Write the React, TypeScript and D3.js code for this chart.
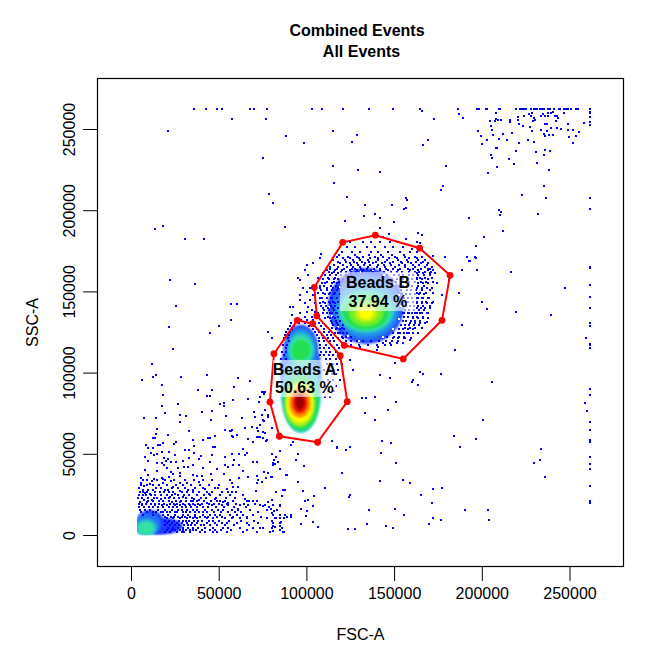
import React, { useEffect, useRef } from 'react';
import * as d3 from 'd3';

// all event values below are in thousands of FSC-A / SSC-A units
const xTicks = [0, 50000, 100000, 150000, 200000, 250000];
const yTicks = [0, 50000, 100000, 150000, 200000, 250000];

// events saturated on the SSC-A channel
const topRowY = 262.5;
const topRowX = [35.9, 42.8, 49, 51.7, 67.7, 70.1, 77.5, 103.2, 108.9, 120.7, 135.7, 149.4, 164.8, 186.4, 197.1, 198.2, 202.2, 202.8, 209.6, 210.4, 219.5, 221.8, 222.9, 224.1, 225.2, 228, 229.8, 230.9, 231.5, 233.2, 234.3, 235.5, 237.7, 238.9, 241.2, 244, 244.6, 246.9, 248, 249.1, 250.8, 253.7, 254.8, 261.7];

// events saturated on the FSC-A channel
const rightColX = 261.7;
const rightColY = [260.7, 259.9, 257.4, 254.3, 252.5, 207.5, 200.7, 165, 164.4, 154, 146.6, 139.8, 130.6, 128.7, 117.6, 117, 115.2, 89.9, 86.2, 69.6, 64.7, 58.5, 57.5, 48, 43.7, 40.6, 30.2, 20.9, 19.9];

const upperRightEvents: [number, number][] = [
  [187, 259.3], [189.3, 256.8], [208.1, 259.9], [220.7, 257.4], [226.9, 259.3], [228.6, 259.9], [228.1, 258], [229.8, 256.8], [230.4, 255.6], [229.2, 255], [224.1, 258], [234.9, 259.3], [237.8, 259.9], [239.5, 259.9], [240.6, 260.5], [233.8, 258], [236, 258], [237.8, 258], [241.8, 258], [242.9, 258], [243.5, 256.8], [246.9, 259.9], [208.1, 256.2], [209.3, 255.6], [211, 255.6], [204.7, 255], [207.6, 255], [220.7, 255.6], [216.1, 255.6], [216.1, 254.3], [221.2, 253.1], [227.5, 251.2], [223.5, 251.9], [205.3, 251.9], [236, 253.1], [237.2, 253.1], [242.3, 255], [249.2, 253.1], [258.3, 253.7],
  [239.5, 250.6], [242.9, 250.6], [245.2, 250], [249.2, 249.4], [252, 249.4], [255.4, 248.2], [233.8, 249.4], [228.6, 248.8], [237.2, 248.8], [205.8, 249.4], [197.9, 248.8], [199.6, 245.7], [206.4, 246.3], [212.1, 246.9], [217.2, 247.6], [235.5, 246.9], [236, 245.7], [238.3, 246.3], [240.6, 246.3], [249.7, 245.1], [253.7, 245.7], [203, 243.2], [209.8, 243.9], [214.4, 243.2], [226.4, 243.2], [229.8, 242], [200.1, 240.8], [221.2, 241.4], [252, 241.4], [208.1, 238.3], [208.7, 238.3], [219.5, 236.5], [230.9, 235.9], [236, 237.1], [238.9, 236.5], [205.3, 234], [205.8, 232.2], [235.5, 234], [215.5, 231.5], [218.4, 228.5], [231.5, 229.1], [179.6, 227.2], [208.7, 226.6], [238.3, 224.8], [203.6, 222.9], [177.9, 214.9], [176.8, 212.5], [235.5, 214.9], [222.9, 209.4],
];

const upperLeftEvents: [number, number][] = [
  [20.9, 248.8], [57.5, 256.2], [77, 256.2], [88.3, 245.7], [98.6, 241.4], [75.2, 232.2], [115.1, 248.8], [128.8, 246.4], [126, 242], [166.4, 240.2], [169.3, 243.3], [165.8, 261.1], [172.7, 256.2], [115.1, 227.3], [129.4, 224.8], [141.9, 223.6], [115.7, 216.8], [123.1, 208.2], [157.3, 206.3], [78.6, 210], [80.9, 204.5], [133.4, 203.2], [148.7, 203.2], [155.6, 200.8], [156.7, 201.4], [122, 193.4], [132.8, 196.5], [139, 197.7], [141.9, 195.2], [149.9, 192.8], [87.8, 189.7], [13.7, 188.5], [18.2, 190.3], [141.9, 189.1], [147, 185.4], [163.6, 186], [165.8, 184.8], [30.8, 182.1], [41.6, 182.1], [156.7, 182.3],
];

const midLeftEvents: [number, number][] = [
  [22.2, 157], [36.5, 154.6], [25.6, 141], [57, 142.2], [60.4, 142.2], [57, 132.4], [21.7, 127.9], [50.2, 128.7], [45, 124.4], [78.1, 125], [80.4, 121.3], [23.9, 114.5], [12, 105.3], [6.3, 95.4], [12.5, 97.3], [14.3, 98.5], [28.5, 97.3], [43.3, 98.5], [61, 96.7], [67.8, 94.8], [17.7, 92.4], [18.2, 86.2], [38.2, 89.3], [46.2, 89.3], [43.3, 85.6], [45, 85.6], [58.7, 90.9], [66.7, 83.7], [74.7, 88], [76.4, 88], [75.8, 86.8], [72.9, 81.9], [17.7, 79.4], [26.8, 80.7], [50.7, 80.7], [53, 81.3], [53, 79.4], [58.1, 82.9], [19.4, 75.1], [46.2, 76.3], [40.5, 75.7], [27.9, 73.9], [31.4, 73.3], [7.4, 72], [14.3, 72], [54.1, 73.3], [63.3, 72], [70.1, 75.7], [74.7, 73.9], [78.1, 72.6], [27.9, 69.6], [45.6, 70.8], [75.8, 70.2], [14.8, 65.3], [33.1, 64], [57, 64], [57.6, 64.6], [65, 65.9], [73.5, 67.7], [72.4, 64], [80.4, 65.9], [75.2, 63.4], [12.7, 59.7], [45, 59.7], [47.9, 60.9], [58.1, 60.3], [60.4, 61.6], [66.7, 59.1], [71.8, 60.3], [75.2, 59.7],
];

const rightEvents: [number, number][] = [
  [236.6, 207.4], [156.8, 207.4], [209.8, 200.2], [211, 199], [210.4, 197.1], [232.1, 197.7], [192.9, 195.3], [212.1, 187.2], [201.3, 183.5], [196.7, 178], [179, 171.2], [191.6, 171.2], [196.2, 171.2], [196.7, 170.6], [192.7, 168.8], [193.3, 168.8], [188.7, 163.2], [197.3, 163.2], [216.7, 162], [247.5, 152.1], [187, 148.9], [200.1, 143.5], [203, 139.2], [219.5, 137.4], [239.5, 135.5], [188.7, 129.4], [259.4, 121.3], [184.8, 114], [166.5, 99.2], [176.8, 99.2], [160.2, 94.2], [205.8, 94.5], [258.9, 81.3], [260, 76.4], [200.7, 70.8], [184.2, 61], [196.7, 59.1], [187.6, 54.2], [233.8, 53], [233.2, 46.2], [229.8, 44.4], [236.1, 35.7], [155.1, 33.9], [159.1, 31.8], [172.2, 28.3], [177.3, 29], [165.4, 24.6], [171.6, 19.7], [190.5, 15.4], [203.6, 15.4], [155.7, 12.3], [172.2, 10.5], [176.8, 9.3], [204.1, 9.3], [169.9, 6.8],
  [163.1, 180.5], [164.8, 179.9], [160.2, 176.2], [172.2, 171.9], [169.4, 163.8], [168.8, 131.2], [159.1, 120.1], [155.7, 121], [181.3, 157], [177.2, 147.8],
];

const bottomMidEvents: [number, number][] = [
  [114.5, 58.1], [143, 57.9], [148.2, 56.7], [117.4, 53.6], [122.5, 52.4], [142.5, 50.5], [151, 44.4], [92.3, 57.3], [91.2, 55.5], [95.2, 49.9], [94, 46.2], [98.6, 42.5], [120.2, 38.2], [141.9, 33.3], [124.8, 24.7], [124.2, 23.4], [110.6, 29], [98, 27.1], [95.2, 32.7], [87.8, 27.7], [82.6, 26.5], [86, 24], [99.2, 21], [100.9, 21.6], [80.3, 21.6], [104.3, 23.8], [103.7, 17.9], [84.9, 17.9], [135.6, 15.4], [150.5, 15.8], [96.9, 16], [100.3, 14.8], [81.5, 14.8], [79.8, 16], [99.7, 11.7], [88.9, 11.1], [91.2, 11.1], [82.6, 10.5], [84.9, 10.5], [87.2, 10.5], [80.3, 13.6], [103.7, 8], [85.5, 8], [80.3, 8.7], [145.3, 5.6], [134.5, 6.8], [96.9, 6.8], [106.6, 5], [149.3, 4.3], [123.7, 3.7], [127.6, 3.7], [84.9, 5.6], [82.1, 5], [80.9, 5.6], [87.2, 1.9], [80.9, 2.5], [84.9, 3.1], [79.2, 1.9], [81.5, 46.2], [80.3, 49.9], [82.1, 43.8], [83.8, 45], [80.9, 43.1], [84.9, 52], [88.3, 37.2], [79.8, 35.8],
];

const lowerLeftEvents: [number, number][] = [
  [14.2, 62.2], [13.7, 59.8], [12.7, 59.8], [21.3, 61.4], [33, 64.1], [57.4, 61], [53.6, 64.7], [60.2, 61.6], [56.4, 64.1], [72.2, 64.1], [75.4, 63.7], [47.9, 61], [44.1, 59.8], [40.8, 58.5], [35.5, 58.5], [35.9, 54.8], [25.6, 57.5], [24.3, 56.1], [18, 56.9], [16.5, 55.5], [15.2, 55.7], [8.3, 55.7], [12.3, 53.6], [9.5, 53.6], [17.6, 51.1], [21.6, 51.1], [11.4, 50.5], [13.3, 49.3], [14.8, 49.9], [7.9, 48.1], [18.8, 47.5], [25.1, 49.3], [33, 52.4], [46.9, 54.2], [47.9, 54.2], [36.1, 50.5], [30.8, 52.4], [39.9, 48.7], [46, 49.1], [53.6, 48.3], [57.5, 49.7], [61.5, 49.7], [65, 49.3], [65.9, 50.5], [63.8, 53], [80.5, 49.9], [76.7, 57.9], [72.2, 60.4], [75.4, 59.8], [82.6, 48.3],
  [21.3, 46.8], [19.9, 45.6], [17.6, 44.6], [14.6, 44.4], [9.9, 45.6], [22.8, 45], [25.8, 45], [29.4, 45.6], [33, 47.5], [38.7, 46.8], [35.5, 43.1], [45, 45], [53.6, 43.1], [58.7, 46.2], [58.1, 43.1], [55.5, 42.1], [61.7, 43.1], [69.7, 45], [71.6, 45], [81.1, 44.2], [83.8, 45], [20.3, 41.3], [22.8, 38.8], [27, 41.3], [30.2, 41.9], [15, 39.4], [7.9, 40], [18.8, 43.1], [32.5, 41.9], [40.8, 41.3], [48.8, 40.7], [45.4, 37.6], [63.8, 39.4], [75.6, 38.8], [78.1, 38.4], [71.6, 36.4], [84.9, 40.7], [24.1, 37.6], [27.9, 38.2], [21.8, 35.7], [35.1, 37], [37.4, 36.4], [5.7, 35.1], [9.5, 37], [17.5, 35.1], [18.4, 34.3], [13.3, 34.3], [11.8, 33.3], [27.9, 36.4], [22.8, 33.3], [27.9, 32.1], [32.1, 32.1], [23.7, 29.6], [40.3, 36.4], [53, 37.6], [56.4, 33.9], [61.5, 35.1], [66.7, 35.7], [72.6, 33.9], [77, 35.3], [80.2, 35.7], [88.7, 37],
  [5.5, 32.1], [10.8, 31.4], [7.6, 30], [18.4, 32.1], [38.5, 32.7], [35.1, 27.7], [46, 33.9], [47.9, 29], [54.5, 28.4], [57.4, 31.9], [57.9, 29.8], [71.6, 31.9], [74.5, 32.9], [95, 32.9], [7, 27.7], [9.5, 27.7], [7.9, 25.7], [10.8, 25.3], [12.3, 27.7], [19.4, 27.7], [21.3, 27.7], [21.8, 26.3], [27.9, 27.1], [25.1, 25.3], [32.7, 27.7], [42.2, 28.2], [44.6, 25.3], [47.9, 22.2], [55.5, 26.3], [57.4, 26.3], [61.2, 29.8], [65, 22.2], [65.9, 21], [71.2, 26.9], [86.4, 27.7],
  [5.1, 20.6], [6, 18.5], [7.4, 21.6], [8.9, 20.6], [11.8, 21.6], [14.6, 22.6], [16.9, 22], [19.4, 22.6], [22.2, 23.6], [23.2, 20.3], [24.5, 22.6], [29.8, 23.6], [27.9, 20.6], [34.2, 21], [36.1, 22], [38.9, 21.6], [43.1, 19.5], [50.7, 20.8], [52.2, 20.6], [55.5, 19.5], [61.2, 16], [69.3, 21.2], [71.6, 20.8], [75.4, 17.9], [78.3, 20.1], [80.2, 21.8], [84.9, 17.9],
];

// dense bottom of the debris cloud, read row by row
const debrisRows: [number, number[]][] = [
  [33.9, [6.6, 9.2, 14.8, 19.3, 24.6, 30.7, 36.2, 41.3]],
  [30.8, [5.9, 8.9, 12.5, 16.2, 20.7, 25.8, 29.4, 34.3, 39.1, 44.7, 50.3]],
  [28.9, [4.7, 14.3, 17.1, 23.1, 26.9, 30.6, 36.7, 41.2, 49.6]],
  [26.4, [5.2, 6.8, 9.1, 13.6, 16.4, 18.9, 23.7, 29.3, 31.8, 35.6, 38.7, 43.2, 46.3, 52.1, 59.7]],
  [24.4, [4.6, 6.9, 8.7, 11.6, 13.9, 17.2, 20.6, 23.4, 26.7, 30.4, 33.2, 37.9, 41.6, 45.3, 50.7, 56.2, 63.8]],
  [22.9, [4.2, 6.1, 9.8, 12.9, 21.5, 27.3, 31.6, 34.8, 39.7, 42.8, 48.6, 54.3, 59.4]],
  [20.9, [9.9, 12.7, 15.8, 18.3, 21.9, 25.6, 28.4, 31.4, 35.3, 37.6, 41.4, 45.8, 49.2, 53.7, 58.2, 67.4]],
  [19.3, [4.4, 6.3, 8.5, 11.2, 13.4, 16.2, 18.9, 22.4, 24.6, 26.4, 29.7, 32.8, 35.1, 38.3, 40.7, 44.2, 47.6, 50.3, 54.6, 60.1, 64.3, 70.9]],
  [18.5, [13.7, 17.5, 20.3, 25.1, 27.9, 30.8, 33.6, 36.5, 39.3, 46, 51.7, 55.5, 62.1, 66.9, 73.5, 76.4, 81.1, 84.9]],
  [17.2, [4.8, 7.6, 10.1, 12.7, 15.3, 18.1, 21.6, 24.2, 26.1, 29.2, 31.4, 34.3, 37.9, 41, 44.1, 48.3, 53.2, 58.6, 65.4, 78.7]],
  [15.4, [5.1, 7.9, 10.8, 15.6, 19.4, 23.2, 27, 28.9, 32.1, 35.5, 37.4, 42.2, 46, 49.8, 52.6, 57.4, 61.2, 67.8, 77.3, 83]],
  [14, [5.6, 8.9, 12.3, 14.2, 16.9, 18.2, 20.6, 22.1, 24.9, 26.3, 29.9, 31.2, 33.7, 36.4, 38.6, 40.9, 43.6, 47.1, 51.2, 55.1, 59.3, 62.8, 72.3]],
  [12.4, [7, 12.7, 18.4, 21.3, 25.1, 29.8, 32.7, 36.5, 41.2, 45, 47.9, 50.7, 56.4, 60.2, 64, 69.7, 81.1, 84.9, 87.8, 91.2]],
  [11.2, [19.4, 22.6, 24.8, 26.9, 28.9, 30.7, 33.9, 36.7, 39.4, 42.3, 44.1, 48.9, 52.1, 58.1, 66.2, 74.4]],
  [10.3, [20.3, 24.1, 27.9, 32.1, 35.1, 37.8, 43.1, 46.9, 53.6, 57.4, 62.1, 65.9, 77.3, 82.1]],
  [8.8, [19.1, 21.4, 24.5, 27.2, 29.6, 31.4, 33.2, 35.8, 38.3, 40.4, 44.6, 46.8, 50.2, 55.7, 62.9, 70.4]],
  [7.2, [20.3, 23.2, 26, 28.9, 31.7, 34.6, 37.4, 43.1, 47.9, 51.7, 54.5, 60.2, 65.9, 72.6, 81.1, 84.9]],
  [5.9, [19.6, 22.3, 24.9, 27.6, 30.3, 32.4, 34.1, 36.7, 39.8, 41.7, 45.2, 49.1, 53.4, 58.8, 67.1]],
  [4.1, [21.3, 24.1, 27, 29.8, 32.7, 35.5, 38.4, 42.2, 46.9, 52.2, 55.5, 62.1, 69.7, 73.5, 75.4, 80.2, 85.9]],
  [3.1, [20.4, 23.3, 25.2, 27.8, 29.9, 31.1, 33.6, 35.4, 37.2, 40.6, 44.9, 47.8, 51.3, 57.2, 66.3]],
  [2.1, [19.4, 22.2, 26, 28.9, 30.2, 33.6, 39.3, 42.2, 46.5, 48.8, 54.5, 64, 71.6, 79.2, 86.8]],
];

// edge of the Beads B population
const beadsBRows: [number, number[]][] = [
  [183.7, [139.1, 143.8]],
  [180.6, [124.8, 132.4, 137.1, 141.9, 147.6, 152.4]],
  [177.5, [122.9, 127.7, 134.3, 139.1, 144.8, 149.5, 155.2]],
  [174.5, [120.1, 125.8, 130.5, 137.1, 141, 146.7, 153.3, 159, 162.8]],
  [172.6, [118.8, 127.5, 135.7, 142.4, 148.9, 155.7]],
  [171.4, [117.2, 123.9, 128.6, 132.4, 139.1, 143.8, 150.5, 156.2, 161.9, 165.7]],
  [170.3, [120.6, 124.7, 129.8, 136.5, 140.9, 147, 151.8, 158.4, 163.1]],
  [169.3, [115.3, 122, 126.7, 130.5, 135.3, 141, 145.7, 152.4, 157.1, 163.8, 167.6]],
  [168.2, [118.3, 122.3, 127.1, 131.6, 135.9, 139.7, 144.6, 149.1, 153.7, 157.8, 162.4, 166.5]],
  [167.3, [119.1, 124.8, 128.6, 133.4, 138.1, 142.9, 147.6, 154.3, 159.9, 165.1, 169.5]],
  [166.1, [115.9, 120.8, 125.2, 129.3, 132.7, 136.3, 140.8, 144.2, 148.3, 152.9, 156.4, 160.7, 164.2, 168.8]],
  [165.2, [113.4, 118.2, 122.9, 126.7, 130.5, 135.3, 140, 144.8, 150.5, 156.2, 161.9, 167.6, 171.4]],
  [164, [113.2, 117.5, 121.7, 125.9, 127.8, 131.1, 134.6, 138.4, 142.2, 145.5, 149.3, 153.1, 157.7, 161, 165.2, 170.6]],
  [163.2, [111.5, 116.3, 120.1, 124.8, 128.6, 132.4, 137.1, 141.9, 146.7, 152.4, 159, 163.8, 169.5, 172.3]],
  [162, [112.6, 115.9, 119.8, 122.3, 125.5, 128.3, 131.7, 137.9, 144.3, 148.4, 151.7, 154.6, 158.3, 161.7, 164.4, 167.9, 171.2]],
  [161.1, [109.6, 114.4, 118.2, 162.8, 166.6, 170.4, 173.3]],
  [160, [110.8, 113.6, 116.9, 119.8, 122.4, 125.4, 142.7, 146.1, 149.8, 152.6, 155.3, 158.4, 160.9, 163.9, 166.9, 170.5]],
  [158, [106.8, 112.5, 116.3, 162.8, 164.7, 167.6, 171.4]],
  [157.7, [109.5, 113.1, 115.7, 118.3, 120.9, 148.7, 151.9, 154.9, 157.3, 160.2, 163.1, 166.1, 169.3]],
  [155.6, [111.9, 115.6, 118.8, 120.2, 150.8, 153.7, 156.6, 158.7, 161.7, 165.4, 168.3, 172.2]],
  [155, [108.7, 110.6, 114.4, 117.2, 163.8, 166.6, 169.5, 174.2]],
  [153.2, [107.6, 110.1, 113.8, 116.7, 119.5, 152.9, 154.8, 157.6, 160.4, 163.6, 166.9]],
  [151.9, [107.7, 111.5, 115.3, 118.2, 162.8, 165.7, 168.5, 171.4]],
  [150.8, [108.4, 111.9, 114.7, 117.6, 154.1, 157.1, 159.8, 162.7, 165.9, 170.3]],
  [148.8, [106.8, 109.6, 113.4, 116.3, 162.8, 164.7, 168.1, 172.3]],
  [148.4, [110.8, 113.1, 115.9, 118.9, 154.7, 156.6, 159.1, 161.8, 164.4, 167.2]],
  [146, [107.9, 111.7, 114.2, 117.4, 155.6, 157.9, 160.3, 163.3, 166, 169.8]],
  [145.7, [108.7, 111.5, 114.4, 117.2, 163.8, 166.6, 169.5]],
  [143.6, [109.4, 112.6, 115.1, 117.9, 156.4, 158.2, 160.7, 162.9, 165.8, 168.4, 171.9]],
  [142.6, [107.7, 110.6, 113.4, 116.3, 162.8, 165.7, 168.5, 171.4]],
  [141.2, [108.3, 111.2, 113.8, 116.1, 156.7, 159, 161.6, 163.7, 166.5, 170.2]],
  [139.6, [109.6, 112.5, 115.3, 118.2, 162.8, 165.1, 167.6, 170.4]],
  [138.8, [110.2, 112.7, 115.9, 156.3, 158.4, 161.1, 164.2, 167.3]],
  [136.5, [106.8, 111.5, 114.4, 117.2, 155.2, 158.1, 161.9, 164.7, 168.5]],
  [136.4, [109.7, 113.6, 116.7, 155.9, 158.6, 160.3, 162.9, 165.8, 169.1]],
  [134, [112.4, 115.3, 117.9, 155.4, 157.8, 160.6, 163.3, 166.4]],
  [133.4, [110.6, 113.4, 116.3, 160.9, 163.8, 166.6, 169.5]],
  [131.6, [113.8, 116.7, 119.1, 154.9, 156.7, 159.4, 162.1, 165]],
  [130.3, [109.6, 114.4, 117.2, 159, 161.9, 164.7, 167.6]],
  [129.2, [115.2, 117.9, 120.6, 153.7, 156.4, 158.7, 161.5, 164.3]],
  [127.2, [114.4, 117.2, 120.1, 156.2, 159, 161.9, 165.7]],
  [126.8, [116.6, 119.4, 121.7, 152.6, 155.2, 157.9, 160.8]],
  [124.4, [117.9, 120.6, 123.1, 149.6, 152.3, 155.4, 158.7]],
  [124.2, [116.3, 119.1, 153.3, 157.1, 160.9, 163.8]],
  [122, [120.1, 122.8, 125.4, 146.2, 149.7, 152.6, 155.9]],
  [121.1, [118.2, 121, 149.5, 152.4, 156.2, 159.9]],
  [119.6, [122.3, 125.4, 128.6, 132.4, 136.7, 141.6, 145.3, 148.9, 152.1]],
  [118, [121, 143.8, 147.6, 151.4, 155.2]],
  [117.2, [125.7, 130.2, 135.4, 140.1, 144.6, 148.3]],
  [116, [130.5, 141]],
  [113.9, [140]],
];

// stray events between the two gates and around Beads A
const strayEvents: [number, number][] = [
  [108.1, 172.9], [107.7, 170.4], [103.9, 167.3], [100.1, 166.3], [96.3, 157], [101.1, 160.1], [99.2, 163.2], [95.4, 158.1], [96.3, 147.8], [100.1, 149.9], [92.5, 140.2], [96.3, 144.7], [90.6, 140.6], [91.6, 135.5], [96.3, 136.5], [99.2, 142.7], [102, 144.7], [99.2, 134.5], [103, 138.6], [101.1, 140.6], [103.9, 147.8], [102, 151.9], [98.2, 151.9], [103, 134.5], [100.1, 137.5], [104.9, 142.7], [104.9, 137.5],
  [73.5, 85.2], [75.4, 88.3], [70.6, 72.9], [75.4, 70.8], [71.6, 65.7], [76.4, 62.6], [77.3, 58.5], [68.8, 66.7], [73.5, 60.6], [78.2, 73.9], [76.4, 77], [69.7, 57.5],
  [131.5, 84.2], [133.9, 84.2], [146.7, 77], [150.8, 82.1], [139.1, 70.8], [117.2, 54.4], [124.8, 54.4], [139.1, 85.2], [133.4, 74.9], [164.7, 100.6], [150.5, 105.7], [163.8, 92.4], [160.9, 95.5], [147.6, 96.5], [141.9, 98.5], [124.8, 107.8], [126.7, 101.6],
];

// edge of the Beads A population
const beadsARows: [number, number[]][] = [
  [132.2, [93.4, 97.2, 100.6, 103.8]],
  [130.6, [91.2, 95.6, 99.1, 102.7, 106.9]],
  [128.8, [90.4, 93.1, 101.2, 104.3, 108.6, 111.1]],
  [127, [89.5, 91.7, 103.9, 106.1, 110.2]],
  [125.2, [88.4, 90.8, 105.1, 107.4, 109.9, 112.6]],
  [123.3, [88, 90.1, 106.2, 108.8, 111.7, 113.9]],
  [121.4, [87.1, 89.4, 106.9, 109.3, 112.2, 115]],
  [119.3, [89.9, 107.4, 110.1, 113.3, 115.6]],
  [117.1, [86.4, 88.9, 107.9, 111.3, 113.8, 117.4]],
  [115, [88.2, 107.7, 109.9, 112.8, 115.9, 118.6]],
  [112.8, [86.1, 88.6, 108.1, 110.9, 113.7, 116.9]],
  [110.7, [87.4, 107.6, 110.2, 112.9, 114.9, 118.1]],
  [108.5, [85.8, 88.3, 111.2, 113.6, 116.8, 119.3]],
  [105.4, [111.6, 115.1, 117.6, 120.4]],
  [101.8, [86.9, 109.9, 113.2, 115.8, 118.3]],
  [99.2, [111.4, 114.6, 117.1]],
  [95.3, [112.1, 115.2, 118.9]],
  [91.5, [111.3, 113.8, 116.9]],
  [88.4, [112.3, 115.7]],
  [84.8, [110.8, 113.7]],
];

// empty bins inside the thin outer edge of the Beads B cloud
const emptyBins: [number, number][] = [
  [154, 141], [152.6, 148], [149.7, 154.8], [144.3, 160.2], [138.2, 162.4], [131.3, 161.7], [124.6, 158.7], [119, 152.9], [114.6, 146.1], [113.1, 140.3], [114.7, 134.6], [118.3, 127.9], [123.5, 122.4], [129.8, 119.7], [136.9, 119.6], [143.4, 122.2], [149.1, 127], [152.9, 133.3],
];

// density levels, low to high
const densityRamp = ['#1a3cff', '#2070f5', '#2098e8', '#28c4c8', '#34e0a4', '#20e050', '#70f020', '#c8f010', '#ffff00', '#ff9000', '#ee1500', '#9c0000'];

// [centre x, centre y, half width, half height, density level]
const densityBands: [number, number, number, number, number][] = [
  // Beads B
  [134, 141, 21.7, 23.4, 0], [134, 139.8, 20, 20.3, 1], [134, 138.6, 17.7, 16.6, 2], [134, 137.9, 16, 13.5, 3], [134, 137.3, 14.8, 12, 4], [134, 137.3, 13.1, 10.8, 5], [134, 136.7, 9.7, 8, 6], [134, 136.7, 6.3, 5.5, 7], [134, 136.7, 4, 3.7, 8],
  // Beads A, upper lobe
  [96.9, 113.9, 10, 15.5, 0], [96.9, 113.9, 9.2, 14.2, 1], [96.9, 113.9, 8.4, 12.5, 2], [96.9, 113.9, 7.4, 10.5, 3], [96.9, 113.9, 6.6, 8.7, 4], [96.9, 113.9, 5.3, 6.5, 5],
  // Beads A, main lobe
  [96.9, 100, 12, 22, 0], [96.9, 98, 11.4, 22, 1], [96.9, 88.1, 11.4, 25.2, 2], [96.9, 85, 11.1, 22.2, 3], [96.9, 81.3, 10.3, 17.2, 5], [96.3, 80.7, 8.6, 14.2, 6], [96.3, 80.7, 8, 12.9, 7], [96.3, 81.3, 7.4, 11.7, 8], [96.3, 81.3, 6.3, 9.2, 9], [96.3, 81.3, 4.6, 6.8, 10], [96.3, 81.9, 2.6, 4.9, 11],
  // debris
  [14.5, 5.5, 15, 5.5, 0], [10.8, 9.2, 7.4, 6.2, 0], [9.7, 6.8, 7.4, 6.8, 1], [8.6, 4.9, 6.8, 5.5, 2], [8.6, 4.3, 5.7, 4.9, 3], [8.6, 4.3, 4.6, 4, 4],
];

// lowest values the instrument recorded
const minEventX = 3.4;
const minEventY = 0;

const gateA: [number, number][] = [[94.8, 132.2], [103.6, 130.1], [119.3, 110.4], [123.3, 82.1], [106.4, 57.1], [84.6, 60.8], [79.2, 81.9], [81.5, 111.6]];
const gateB: [number, number][] = [[120.7, 180.2], [139.3, 184.6], [164.6, 176.6], [181.9, 159.9], [177.3, 132.2], [155.2, 108.4], [121.6, 116.8], [105.9, 134.9], [104.5, 152.5]];

const gateLabels = [
  { name: 'Beads A', pct: '50.63 %', x: 98.9, y: 96.4, w: 63, h: 37 },
  { name: 'Beads B', pct: '37.94 %', x: 140.8, y: 149.9, w: 76, h: 39 },
];

const App: React.FC = () => {
  const svgRef = useRef<SVGSVGElement | null>(null);

  useEffect(() => {
    if (!svgRef.current) return;
    const size = 664;
    const box = { left: 97.5, right: 623.5, top: 78.5, bottom: 566.5 };
    const font = '"Liberation Sans", Arial, sans-serif';

    const svg = d3.select(svgRef.current);
    svg.selectAll('*').remove();
    svg.attr('width', size).attr('height', size).attr('viewBox', `0 0 ${size} ${size}`);

    const x = d3.scaleLinear().domain([0, 250000]).range([131, 569.5]);
    const y = d3.scaleLinear().domain([0, 250000]).range([535, 129]);
    const px = (k: number) => x(k * 1000);
    const py = (k: number) => y(k * 1000);

    const defs = svg.append('defs');
    defs.append('clipPath').attr('id', 'events')
      .append('rect')
      .attr('x', px(minEventX)).attr('y', box.top)
      .attr('width', box.right - px(minEventX)).attr('height', py(minEventY) + 0.5 - box.top);
    // softens the steps between density levels
    defs.append('filter').attr('id', 'smooth')
      .append('feGaussianBlur').attr('stdDeviation', 1.3);

    // density clouds, lowest level first so the peaks stay on top
    const bands = [...densityBands].sort((a, b) => a[4] - b[4]);
    svg.append('g').attr('clip-path', 'url(#events)')
      .append('g').attr('filter', 'url(#smooth)')
      .selectAll('ellipse').data(bands).enter().append('ellipse')
      .attr('cx', d => px(d[0]))
      .attr('cy', d => py(d[1]))
      .attr('rx', d => px(d[2]) - px(0))
      .attr('ry', d => py(0) - py(d[3]))
      .attr('fill', d => densityRamp[d[4]]);

    const dots = (data: [number, number][], fill: string) =>
      svg.append('g').attr('shape-rendering', 'crispEdges').attr('fill', fill)
        .selectAll('rect').data(data).enter().append('rect')
        .attr('x', d => Math.round(px(d[0])) - 1)
        .attr('y', d => Math.round(py(d[1])) - 1)
        .attr('width', 2).attr('height', 2);

    dots(emptyBins, '#fff');

    // single events
    const fromRows = (rows: [number, number[]][]) =>
      rows.flatMap(([ry, xs]) => xs.map(v => [v, ry] as [number, number]));
    dots([
      ...topRowX.map(v => [v, topRowY] as [number, number]),
      ...rightColY.map(v => [rightColX, v] as [number, number]),
      ...upperRightEvents, ...upperLeftEvents, ...midLeftEvents, ...rightEvents,
      ...bottomMidEvents, ...lowerLeftEvents, ...strayEvents,
      ...fromRows(debrisRows), ...fromRows(beadsBRows), ...fromRows(beadsARows),
    ], '#0000ff');

    // gates
    const gateLine = d3.line<[number, number]>().x(d => px(d[0])).y(d => py(d[1])).curve(d3.curveLinearClosed);
    [gateA, gateB].forEach(gate => {
      const g = svg.append('g');
      g.append('path').attr('d', gateLine(gate)).attr('fill', 'none').attr('stroke', '#ff0000').attr('stroke-width', 2);
      g.selectAll('circle').data(gate).enter().append('circle')
        .attr('cx', d => px(d[0])).attr('cy', d => py(d[1])).attr('r', 3.4).attr('fill', '#ff0000');
    });

    // gate labels
    gateLabels.forEach(l => {
      const g = svg.append('g').attr('transform', `translate(${px(l.x)},${py(l.y)})`)
        .attr('font-family', font).attr('font-weight', 'bold').attr('font-size', 16).attr('text-anchor', 'middle');
      g.append('rect').attr('x', -l.w / 2).attr('y', -l.h / 2).attr('width', l.w).attr('height', l.h)
        .attr('fill', '#fff').attr('fill-opacity', 0.6);
      g.append('text').attr('y', -3.5).text(l.name);
      g.append('text').attr('y', 15).text(l.pct);
    });

    // frame and axes
    svg.append('rect').attr('x', box.left).attr('y', box.top)
      .attr('width', box.right - box.left).attr('height', box.bottom - box.top)
      .attr('fill', 'none').attr('stroke', '#000').attr('stroke-width', 1.2);

    const xAxis = svg.append('g').attr('transform', `translate(0,${box.bottom})`)
      .call(d3.axisBottom(x).tickValues(xTicks).tickFormat(d3.format('d')).tickSize(14.4).tickPadding(7));
    const yAxis = svg.append('g').attr('transform', `translate(${box.left},0)`)
      .call(d3.axisLeft(y).tickValues(yTicks).tickFormat(d3.format('d')).tickSize(14.4));
    [xAxis, yAxis].forEach(a => {
      a.select('.domain').remove();
      a.selectAll('line').attr('stroke', '#000');
      a.selectAll('text').attr('font-family', font).attr('font-size', 16).attr('fill', '#000');
    });
    yAxis.selectAll('text')
      .attr('transform', 'rotate(-90)')
      .attr('x', 0).attr('y', -22.5).attr('dy', 0)
      .attr('text-anchor', 'middle');

    // titles
    const text = (tx: number, ty: number, s: string, bold = false, rotate = false) =>
      svg.append('text')
        .attr('transform', rotate ? `translate(${tx},${ty}) rotate(-90)` : `translate(${tx},${ty})`)
        .attr('font-family', font).attr('font-size', 16)
        .attr('font-weight', bold ? 'bold' : 'normal')
        .attr('text-anchor', 'middle').attr('fill', '#000').text(s);
    text(357, 36, 'Combined Events', true);
    text(361.5, 57, 'All Events', true);
    text(360.5, 640, 'FSC-A');
    text(38, 322.5, 'SSC-A', false, true);
  }, []);

  return <svg ref={svgRef} style={{ position: 'fixed', left: 0, top: 0, background: '#fff' }} />;
};

export default App;
